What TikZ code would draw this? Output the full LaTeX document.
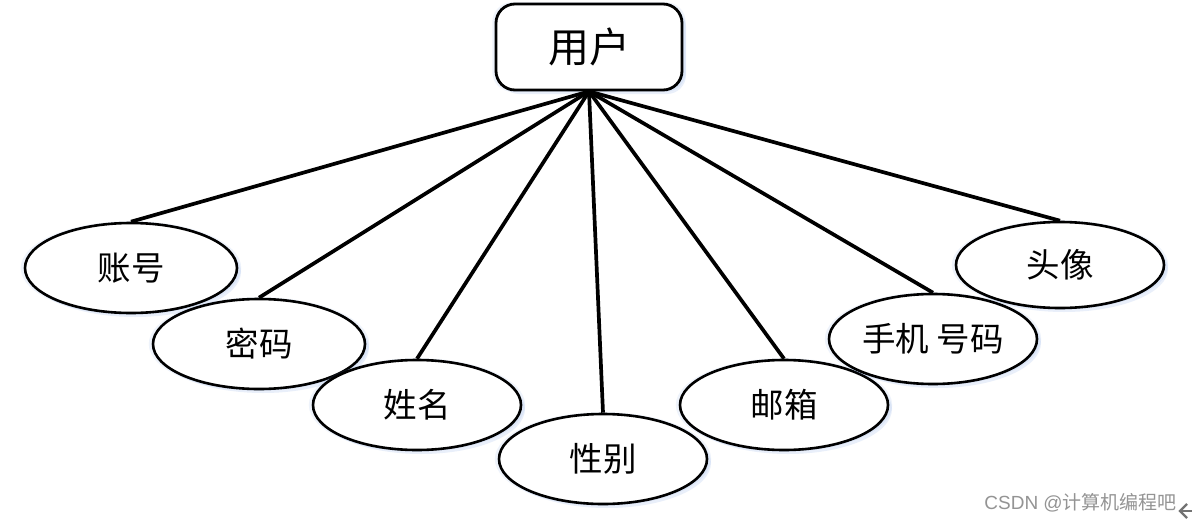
\documentclass[tikz,border=0pt]{standalone}
\usepackage{fontspec}
\setmainfont{Liberation Sans}
\newfontfamily\cjk{Noto Sans CJK SC}
\usetikzlibrary{shapes.geometric,shadows}
\definecolor{glow}{RGB}{120,160,225}
\tikzset{
  x=1pt,y=-1pt,
  glowing/.style={general shadow={shadow xshift=4pt,shadow yshift=-4pt,fill=glow,opacity=.16},
                  general shadow={shadow xshift=0pt,shadow yshift=0pt,shadow scale=1.04,fill=glow,opacity=.12}},
  attr/.style={ellipse,draw=black,line width=2.6pt,fill=white,glowing,inner sep=0pt,
               minimum width=208pt,minimum height=90pt,font=\cjk\fontsize{33.5pt}{36pt}\selectfont},
  entity/.style={rectangle,rounded corners=19pt,draw=black,line width=2.8pt,fill=white,glowing,inner sep=0pt,
               minimum width=186pt,minimum height=86pt,font=\cjk\fontsize{41pt}{44pt}\selectfont},
  link/.style={draw=black,line width=3.7pt},
  mark text/.style={text=black!42,inner sep=0pt,font=\fontsize{19pt}{22pt}\selectfont},
  back arrow/.style={draw=black!55,line width=2.2pt}
}
\begin{document}
\begin{tikzpicture}
\useasboundingbox (0,0) rectangle (1192,522);
\fill[white] (0,0) rectangle (1192,522);
\coordinate (arrowtip) at (1180,511);
\coordinate (arrowend) at (1192,511);
\coordinate (arrowup) at (1187,504);
\coordinate (arrowdown) at (1187,518);
\node[entity] (user) at (589,47) {用户};
\node[attr,minimum width=212pt] (a1) at (131,268) {账号};
\node[attr,minimum width=212pt] (a2) at (259,344) {密码};
\node[attr] (a3) at (417,405) {姓名};
\node[attr] (a4) at (603,459) {性别};
\node[attr] (a5) at (784,405) {邮箱};
\node[attr] (a6) at (933,339) {手机 号码};
\node[attr,minimum height=86pt] (a7) at (1060,265) {头像};
\foreach \n in {a1,a2,a3,a4,a5,a6,a7} \draw[link] (user.south) -- (\n.north);
\node[mark text,anchor=east] (wm) at (1177,503) {CSDN @{\cjk 计算机编程吧}};
\draw[back arrow] (arrowtip) -- (arrowend);
\draw[back arrow] (arrowup) -- (arrowtip) -- (arrowdown);
\end{tikzpicture}
\end{document}
